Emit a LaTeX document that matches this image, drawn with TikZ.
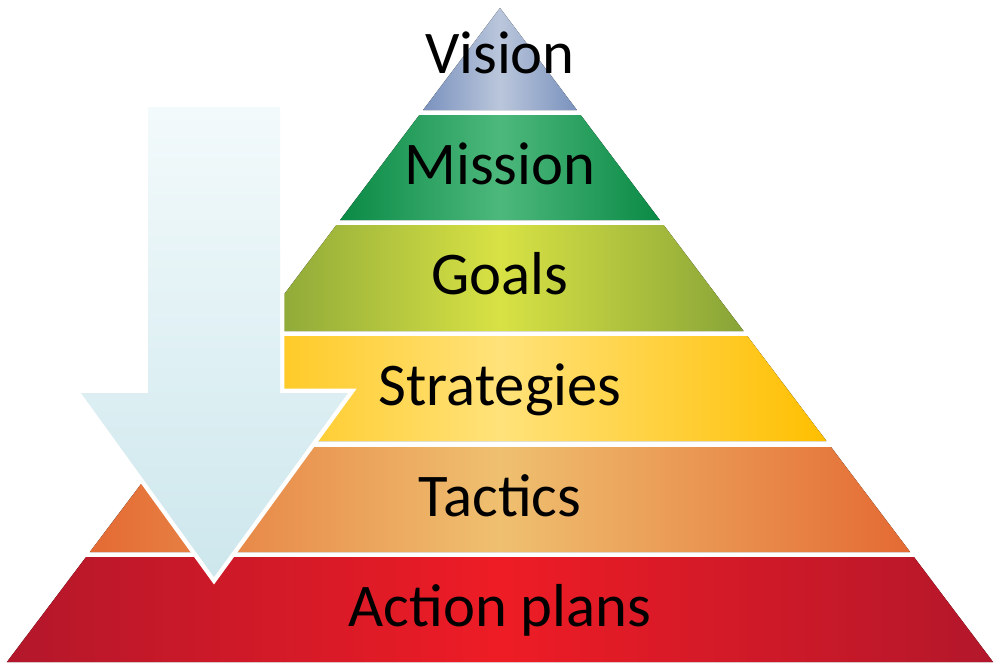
\documentclass[tikz,border=0pt]{standalone}
\usepackage{fontspec}
\setmainfont{Carlito}
\usetikzlibrary{calc}

\definecolor{visedge}{HTML}{7A92BE}
\definecolor{vismid}{HTML}{BAC6DB}
\definecolor{misedge}{HTML}{0A8A45}
\definecolor{mismid}{HTML}{4DB87C}
\definecolor{goaedge}{HTML}{88A438}
\definecolor{goamid}{HTML}{D8E244}
\definecolor{stredge}{HTML}{FFBF00}
\definecolor{strmid}{HTML}{FFE27A}
\definecolor{tacedge}{HTML}{E46A33}
\definecolor{tacmid}{HTML}{EFC070}
\definecolor{actedge}{HTML}{B3172B}
\definecolor{actmid}{HTML}{EE1C25}
\definecolor{arrtop}{HTML}{F3FAFB}
\definecolor{arrbot}{HTML}{CDE7ED}

\tikzset{
  layertext/.style={font=\fontsize{34.5}{41}\selectfont, text=black, inner sep=0pt, anchor=base},
}

\begin{document}
\begin{tikzpicture}[x=0.02cm,y=-0.02cm]
\useasboundingbox (0,0) rectangle (1000,667);
\fill[white] (0,0) rectangle (1000,667);
\coordinate (APEX) at (500,8);
%the layers
\foreach \ytop/\ybot/\cedge/\cmid in {8/110/visedge/vismid,115/220/misedge/mismid,225/331/goaedge/goamid,336/441/stredge/strmid,447/552/tacedge/tacmid,557/662/actedge/actmid} {
  \fill[left color=\cedge, right color=\cedge, middle color=\cmid]
    ({500-(\ytop-8)*0.754},\ytop) -- ({500+(\ytop-8)*0.754},\ytop)
    -- ({500+(\ybot-8)*0.754},\ybot) -- ({500-(\ybot-8)*0.754},\ybot) -- cycle;
}
%arrow
\coordinate (A1) at (148,107);
\coordinate (A2) at (280,107);
\coordinate (A3) at (280,393);
\coordinate (A4) at (348,393);
\coordinate (A5) at (214,577);
\coordinate (A6) at (81,393);
\coordinate (A7) at (148,393);
\path[draw=white, fill=white, line width=5pt, line join=miter] (A1)--(A2)--(A3)--(A4)--(A5)--(A6)--(A7)--cycle;
\shade[top color=arrtop, bottom color=arrbot] (A1)--(A2)--(A3)--(A4)--(A5)--(A6)--(A7)--cycle;
%labels
\foreach \name/\txt/\yb in {VIS/Vision/73,MIS/Mission/184,GOA/Goals/294,STR/Strategies/405,TAC/Tactics/516,ACT/Action plans/626} {
  \node[layertext] (\name) at (500,\yb) {\txt};
}
\end{tikzpicture}
\end{document}
